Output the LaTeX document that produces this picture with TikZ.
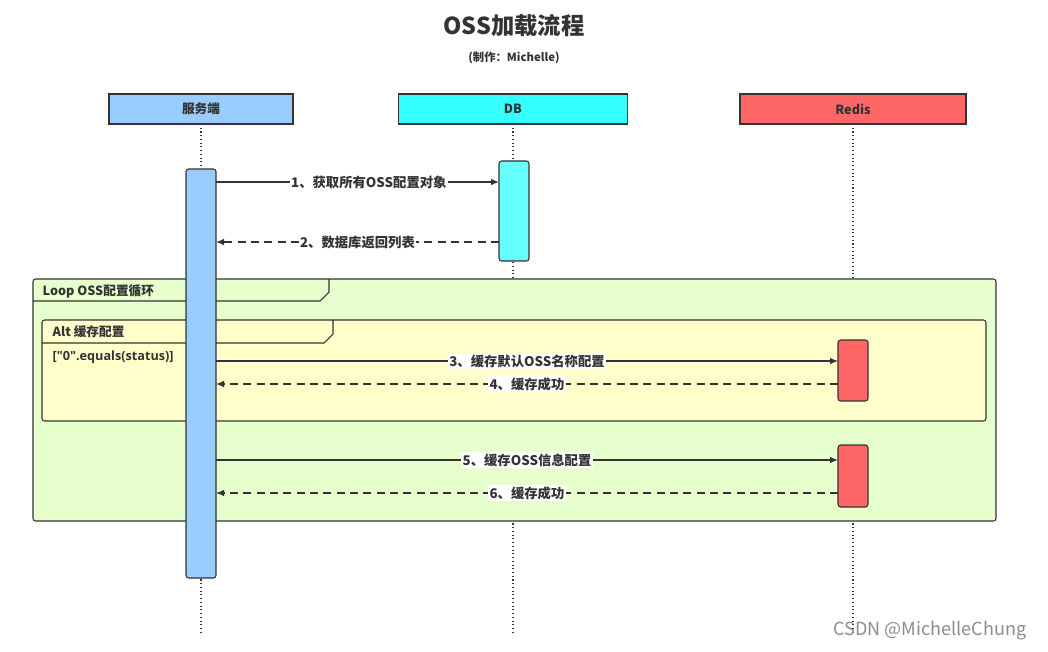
\documentclass[tikz,border=0pt]{standalone}
\usepackage{fontspec}
\setmainfont{Noto Sans CJK SC}
\newfontfamily\latinfont{Open Sans}
\usetikzlibrary{arrows.meta}
\definecolor{srvbg}{HTML}{99CCFF}
\definecolor{dbhead}{HTML}{33FFFF}
\definecolor{dbbg}{HTML}{66FFFF}
\definecolor{redisbg}{HTML}{FF6666}
\definecolor{loopbg}{HTML}{E6FFCC}
\definecolor{altbg}{HTML}{FFFFCC}
\definecolor{ink}{HTML}{333333}
\begin{document}
\begin{tikzpicture}[x=0.75pt,y=-0.75pt,
head/.style = {draw=ink, line width=0.8pt, minimum height=22.5pt, font=\fontsize{9.5}{11}\selectfont\bfseries, text=ink},
bar/.style = {draw=ink, line width=0.8pt, rounded corners=2pt},
life/.style = {ink, line width=0.8pt, dotted},
msg/.style = {ink, line width=0.9pt, -{Latex[length=6pt,width=5pt]}},
reply/.style = {msg, dash pattern=on 6pt off 4pt},
lbl/.style = {fill=white, inner sep=1pt, font=\fontsize{10}{12}\selectfont\bfseries, text=ink},
frame/.style = {draw=ink, line width=0.8pt, rounded corners=2pt},
tag/.style = {anchor=west, font=\fontsize{9.5}{11}\selectfont\bfseries, text=ink}
]
\useasboundingbox (0,0) rectangle (1048,652);

% title
\node[font=\fontsize{17.5}{20}\selectfont\bfseries, text=ink] (title) at (514,26) {OSS加载流程};
\node[font=\fontsize{8.5}{10}\selectfont\bfseries, text=ink] (sub) at (514,58) {(制作：Michelle)};

% lifelines
\draw[life] (201,124) -- (201,632);
\draw[life] (513,124) -- (513,632);
\draw[life] (853,124) -- (853,632);

% heads
\node[head, fill=srvbg, minimum width=138pt] (srv) at (201,109) {服务端};
\node[head, fill=dbhead, minimum width=171.75pt] (db) at (513,109) {DB};
\node[head, fill=redisbg, minimum width=169.5pt] (redis) at (853,109) {Redis};

% frames
\draw[frame, fill=loopbg] (33,279) rectangle (996,521);
\draw[ink, line width=0.8pt] (33,301) -- (320,301) -- (329,292) -- (329,279);
\node[tag] (loop) at (38,291) {Loop OSS配置循环};
\draw[frame, fill=altbg] (42,320) rectangle (986,421);
\draw[ink, line width=0.8pt] (42,343) -- (324,343) -- (333,334) -- (333,320);
\node[tag] (alt) at (48,332) {Alt 缓存配置};
\node[tag] (guard) at (48,357) {{\latinfont\bfseries ["0".equals(status)]}};

% activation bars
\draw[bar, fill=srvbg] (186,169) rectangle (216,578);
\draw[bar, fill=dbbg] (499,161) rectangle (529,261);
\draw[bar, fill=redisbg] (838,340) rectangle (868,401);
\draw[bar, fill=redisbg] (838,445) rectangle (868,507);

% messages
\coordinate (s1) at (216,182); \coordinate (d1) at (499,182);
\coordinate (s2) at (216,242); \coordinate (d2) at (499,242);
\coordinate (s3) at (216,361); \coordinate (r3) at (838,361);
\coordinate (s4) at (216,384); \coordinate (r4) at (838,384);
\coordinate (s5) at (216,460); \coordinate (r5) at (838,460);
\coordinate (s6) at (216,493); \coordinate (r6) at (838,493);
\draw[msg] (s1) -- (d1) node[lbl, pos=0.54] {1、获取所有OSS配置对象};
\draw[reply] (d2) -- (s2) node[lbl, pos=0.5] {2、数据库返回列表};
\draw[msg] (s3) -- (r3) node[lbl, pos=0.5] {3、缓存默认OSS名称配置};
\draw[reply] (r4) -- (s4) node[lbl, pos=0.5] {4、缓存成功};
\draw[msg] (s5) -- (r5) node[lbl, pos=0.5] {5、缓存OSS信息配置};
\draw[reply] (r6) -- (s6) node[lbl, pos=0.5] {6、缓存成功};

\node[font=\fontsize{13.5}{16}\selectfont, text=black!45] (mark) at (930,631) {CSDN @MichelleChung};
\end{tikzpicture}
\end{document}
